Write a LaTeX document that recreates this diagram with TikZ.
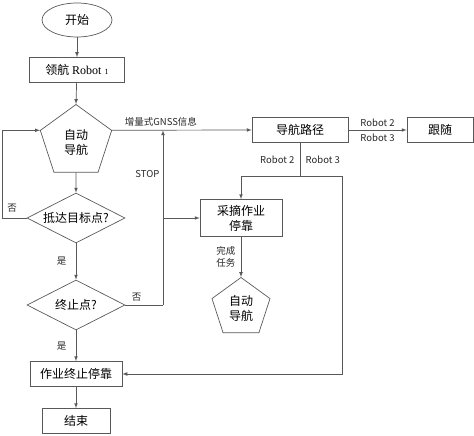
\documentclass[tikz,border=0pt]{standalone}
\usepackage{fontspec}
\setmainfont{Noto Sans CJK SC}
\newfontfamily\latinserif{Liberation Serif}
\usetikzlibrary{shapes.geometric, arrows, positioning}

\tikzset{
    box/.style={draw=black!65, line width=0.7pt, rectangle, minimum height=25pt, inner sep=2pt, align=center},
    penta/.style={draw=black!65, line width=0.7pt, regular polygon, regular polygon sides=5, inner sep=0pt, align=center},
    decision/.style={draw=black!65, line width=0.7pt, diamond, aspect=2, inner sep=0pt, minimum width=98pt, minimum height=50pt},
    flow/.style={draw=black!65, line width=0.7pt},
    note/.style={font=\fontsize{9.5}{12}\selectfont, text=black!85}
}

\begin{document}
\begin{tikzpicture}[>=latex, x=1pt, y=-1pt, font=\fontsize{12}{15}\selectfont]
\useasboundingbox (0,0) rectangle (474,436);

\node[draw=black!65, line width=0.7pt, ellipse, minimum width=70pt, minimum height=34pt, inner sep=0pt] (start) at (77,20) {开始};
\node[box, minimum width=95pt] (lead) at (77,70) {领航 {\latinserif Robot \footnotesize 1}};
\node[penta, minimum size=75pt] (auto1) at (76,142) {自动\\导航};
\node[decision] (arrive) at (76,218) {抵达目标点?};
\node[decision] (endpt) at (76,305) {终止点?};
\node[box, minimum width=92pt] (halt) at (76,374) {作业终止停靠};
\node[box, minimum width=68pt] (finish) at (76,421) {结束};

\node[box, minimum width=96pt] (navpath) at (300,130) {导航路径};
\node[box, minimum width=66pt] (follow) at (440,130) {跟随};
\node[box, minimum width=82pt, minimum height=37pt, inner sep=1pt] (pick) at (241,218) {采摘作业\\停靠};
\node[penta, minimum size=61pt] (auto2) at (241,308) {自动\\导航};

\coordinate (split) at (300,176);
\coordinate (stop-turn) at (163,305);

\draw[flow, ->] (start) -- (lead);
\draw[flow, ->] (lead) -- (auto1.corner 1);
\draw[flow, ->] (auto1.south) -- (arrive.north);
\draw[flow, ->] (arrive.west) -- ++(-24,0) |- (auto1.corner 2);
\node[note] (no1) at (12,208) {否};
\draw[flow, ->] (arrive.south) -- node[note, left, xshift=-6pt] {是} (endpt.north);
\draw[flow, ->] (endpt.south) -- node[note, left, xshift=-6pt] {是} (halt.north);
\draw[flow, ->] (halt) -- (finish);

\draw[flow, ->] (auto1.corner 5) -- node[note, above, pos=0.35] {增量式GNSS信息} (navpath.west);
\draw[flow] (endpt.east) -- node[note, above, pos=0.3] {否} (stop-turn);
\draw[flow, ->] (stop-turn) -- node[note, left, pos=0.75] {STOP} (stop-turn |- auto1.corner 5);
\draw[flow, ->] (stop-turn |- pick.west) -- (pick.west);

\draw[flow, ->] (navpath.east) -- node[note, above] {Robot 2} node[note, below] {Robot 3} (follow.west);
\draw[flow] (navpath.south) -- node[note, left, xshift=-2pt] {Robot 2} node[note, right, xshift=2pt] {Robot 3} (split);
\draw[flow, ->] (split) -| (pick.north);
\draw[flow, ->] (split) -- ++(42,0) |- (halt.east);
\draw[flow, ->] (pick.south) -- node[note, left, align=center, xshift=-2pt] {完成\\任务} (auto2.corner 1);

\end{tikzpicture}
\end{document}
